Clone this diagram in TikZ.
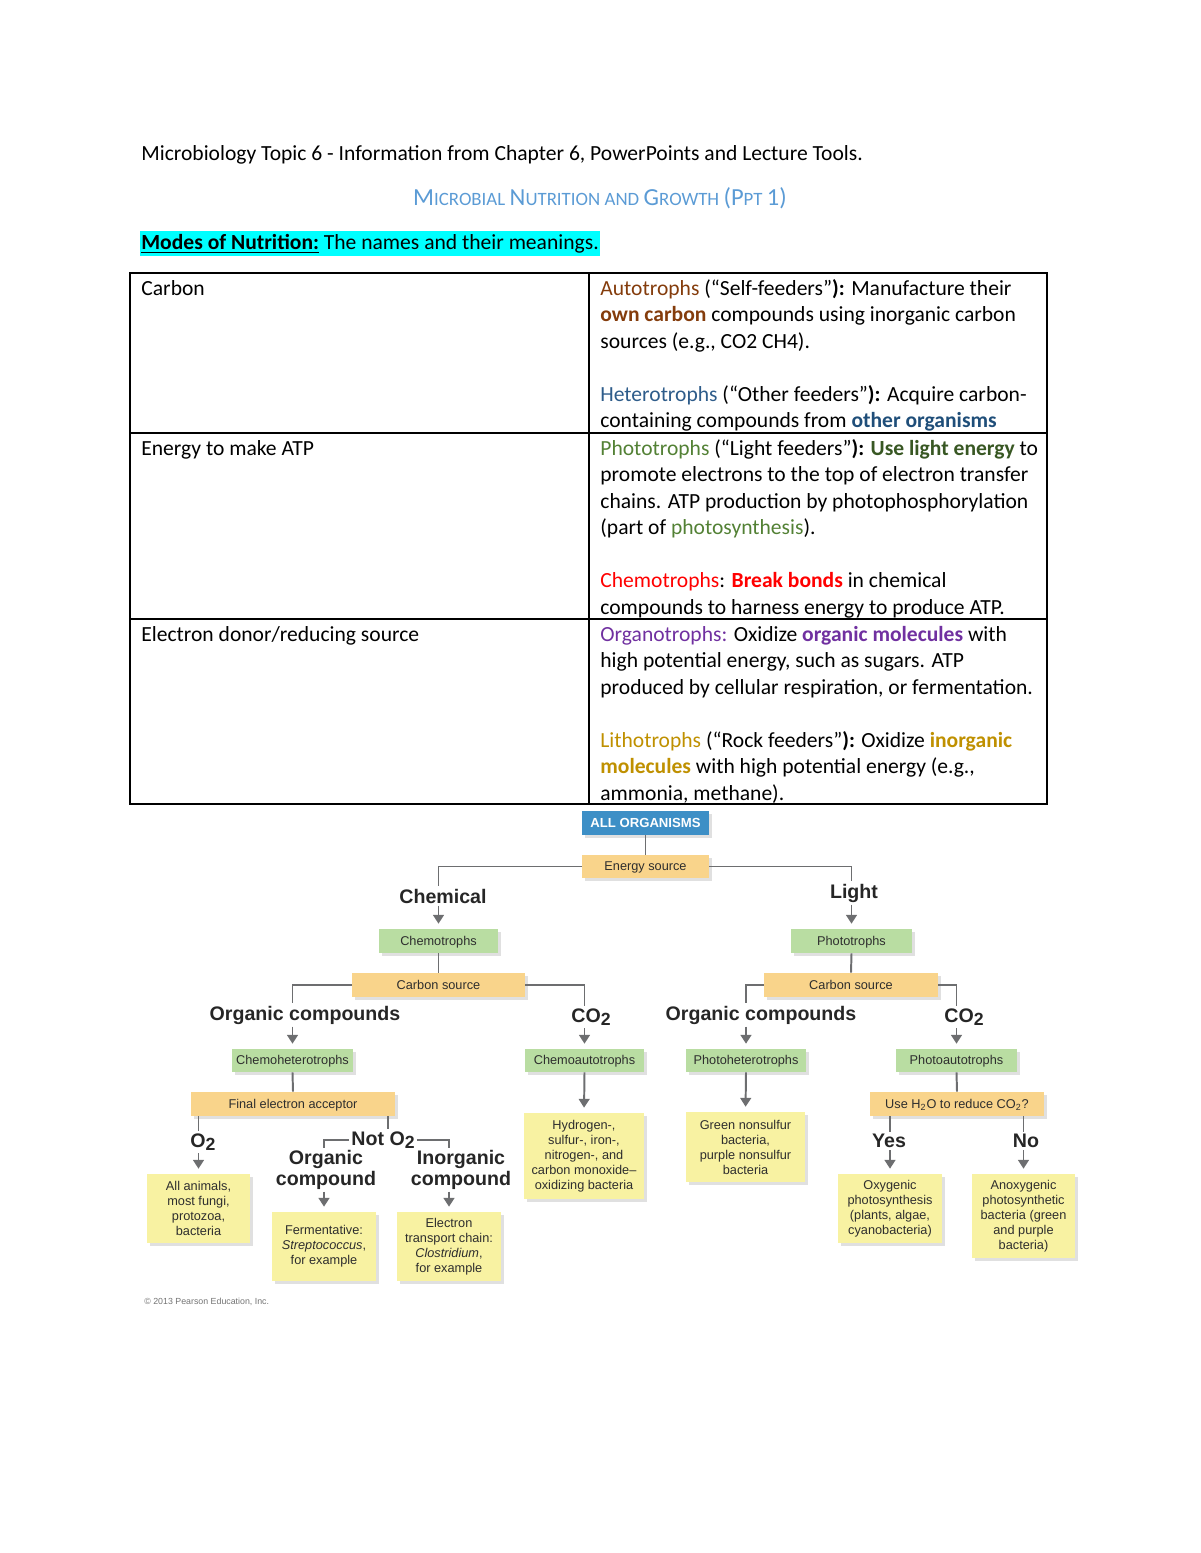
\documentclass[tikz,border=0pt]{standalone}
\usepackage{fontspec}
\setmainfont{Carlito}
\newfontfamily\arial{Liberation Sans}
\usetikzlibrary{arrows.meta,shadows}
\definecolor{autoc}{HTML}{843C0C}
\definecolor{heteroc}{HTML}{2E5C8A}
\definecolor{heterob}{HTML}{1F4E79}
\definecolor{photoc}{HTML}{538135}
\definecolor{photob}{HTML}{385723}
\definecolor{chemoc}{HTML}{FF0000}
\definecolor{organoc}{HTML}{7030A0}
\definecolor{lithoc}{HTML}{BF9000}
\definecolor{headc}{HTML}{5B9BD5}
\definecolor{hilite}{HTML}{00FFFF}
\definecolor{bluebox}{HTML}{3D8FC6}
\definecolor{orng}{HTML}{F9D48B}
\definecolor{grn}{HTML}{B9DDA2}
\definecolor{ylw}{HTML}{F8F2A2}
\definecolor{lgray}{HTML}{6D6E70}
\newcommand\bigsc[1]{{\fontsize{12.5}{15}\selectfont #1}}
\newcommand\smsc[1]{{\fontsize{9.6}{12}\selectfont #1}}
\newcommand\subtwo{\raisebox{-0.35ex}{\fontsize{9}{9}\selectfont 2}}
\begin{document}
\begin{tikzpicture}[x=0.51pt,y=-0.51pt,
  doc/.style={inner sep=0pt, font=\fontsize{11}{13.5}\selectfont},
  cell/.style={doc, anchor=north west, align=left},
  tbl/.style={line width=1.1pt, draw=black},
  sz/.style 2 args={minimum width={#1*0.51pt}, minimum height={#2*0.51pt}},
  box/.style={inner sep=0pt, align=center, text=black!82, font=\arial\fontsize{6.5}{7.65}\selectfont,
    drop shadow={shadow xshift=1.4pt, shadow yshift=-1.4pt, fill=black, opacity=0.12}},
  one/.style={text height=5pt, text depth=0.6pt},
  bbox/.style={box, one, fill=bluebox, text=white, font=\arial\bfseries\fontsize{6.7}{8}\selectfont},
  obox/.style={box, one, fill=orng},
  gbox/.style={box, one, fill=grn},
  nbox/.style={box, fill=ylw},
  lab/.style={inner sep=1pt, align=center, text=black!85, font=\arial\bfseries\fontsize{10}{8.7}\selectfont},
  conn/.style={draw=lgray, line width=1pt},
  arr/.style={conn, -{Triangle[width=5.5pt,length=4.5pt]}, shorten >=2.5pt}
]
\useasboundingbox (0,0) rectangle (1200,1553);

% ---------- header ----------
\node[doc, anchor=base west] (title) at (141,161)
  {Microbiology Topic 6 - Information from Chapter 6, PowerPoints and Lecture Tools.};
\node[inner sep=0pt, anchor=base, text=headc] (head) at (600,206)
  {\bigsc{M}\smsc{ICROBIAL} \bigsc{N}\smsc{UTRITION} \smsc{AND} \bigsc{G}\smsc{ROWTH} \bigsc{(P}\smsc{PT} \bigsc{1)}};
\fill[hilite] (140,231) rectangle (600,256);
\node[doc, anchor=base west] (modes) at (141,249)
  {\textbf{\underline{Modes of Nutrition:}} The names and their meanings.};

% ---------- table ----------
\draw[tbl] (130,273) rectangle (1047,804);
\draw[tbl] (589,273) -- (589,804);
\draw[tbl] (130,433) -- (1047,433);
\draw[tbl] (130,619) -- (1047,619);

\node[doc, anchor=base west] (c1) at (141,295) {Carbon};
\node[doc, anchor=base west] (c2) at (141,455) {Energy to make ATP};
\node[doc, anchor=base west] (c3) at (141,641) {Electron donor/reducing source};

\node[cell] (r1) at (600,276.5) {\strut\textcolor{autoc}{Autotrophs} (“Self-feeders”\textbf{):} Manufacture their\\
\textcolor{autoc}{\textbf{own carbon}} compounds using inorganic carbon\\
sources (e.g., CO2 CH4).\\[13.5pt]
\textcolor{heteroc}{Heterotrophs} (“Other feeders”\textbf{):} Acquire carbon-\\
containing compounds from \textcolor{heterob}{\textbf{other organisms}}};

\node[cell] (r2) at (600,436.5) {\strut\textcolor{photoc}{Phototrophs} (“Light feeders”\textbf{):} \textcolor{photob}{\textbf{Use light energy}} to\\
promote electrons to the top of electron transfer\\
chains. ATP production by photophosphorylation\\
(part of \textcolor{photoc}{photosynthesis}).\\[13.5pt]
\textcolor{chemoc}{Chemotrophs}: \textcolor{chemoc}{\textbf{Break bonds}} in chemical\\
compounds to harness energy to produce ATP.};

\node[cell] (r3) at (600,622.5) {\strut\textcolor{organoc}{Organotrophs:} Oxidize \textcolor{organoc}{\textbf{organic molecules}} with\\
high potential energy, such as sugars. ATP\\
produced by cellular respiration, or fermentation.\\[13.5pt]
\textcolor{lithoc}{Lithotrophs} (“Rock feeders”\textbf{):} Oxidize \textcolor{lithoc}{\textbf{inorganic}}\\
\textcolor{lithoc}{\textbf{molecules}} with high potential energy (e.g.,\\
ammonia, methane).};

% ---------- flowchart boxes ----------
\node[bbox, sz={127}{24}] (ao) at (645.5,823) {ALL ORGANISMS};
\node[obox, sz={127}{23}] (es) at (645.5,866.5) {Energy source};
\node[lab] (lchem) at (443,896) {Chemical};
\node[lab] (llight) at (854,893) {Light};
\node[gbox, sz={119}{24}] (chemo) at (438.5,941) {Chemotrophs};
\node[gbox, sz={121}{24}] (photo) at (851.5,941) {Phototrophs};
\node[obox, sz={173}{24}] (cs1) at (438.5,985) {Carbon source};
\node[obox, sz={174}{24}] (cs2) at (851,985) {Carbon source};
\node[lab] (lorg1) at (305,1015) {Organic compounds};
\node[lab] (lco1) at (591,1017) {CO\subtwo};
\node[lab] (lorg2) at (761,1015) {Organic compounds};
\node[lab] (lco2) at (964,1017) {CO\subtwo};
\node[gbox, sz={121}{23}] (chet) at (292.5,1060.5) {Chemoheterotrophs};
\node[gbox, sz={119}{23}] (caut) at (584.5,1060.5) {Chemoautotrophs};
\node[gbox, sz={120}{23}] (phet) at (746,1060.5) {Photoheterotrophs};
\node[gbox, sz={121}{23}] (paut) at (956.5,1060.5) {Photoautotrophs};
\node[obox, sz={204}{24}] (fea) at (293,1104) {Final electron acceptor};
\node[obox, sz={174}{24}] (uh) at (957,1104) {Use H\textsubscript{2}O to reduce CO\textsubscript{2}?};
\node[lab] (lo2) at (203,1142) {O\subtwo};
\node[lab] (lnot) at (383,1140) {Not O\subtwo};
\node[lab] (lorgc) at (326,1170) {Organic\\compound};
\node[lab] (linorg) at (461,1170) {Inorganic\\compound};
\node[lab] (lyes) at (889,1141) {Yes};
\node[lab] (lno) at (1026,1141) {No};
\node[nbox, sz={103}{69}] (n1) at (198.5,1208.5) {All animals,\\most fungi,\\protozoa,\\bacteria};
\node[nbox, sz={104}{69}] (n2) at (324,1246.5) {Fermentative:\\\textit{Streptococcus},\\for example};
\node[nbox, sz={104}{69}] (n3) at (449,1246.5) {Electron\\transport chain:\\\textit{Clostridium},\\for example};
\node[nbox, sz={120}{86}] (n4) at (584,1156) {Hydrogen-,\\sulfur-, iron-,\\nitrogen-, and\\carbon monoxide–\\oxidizing bacteria};
\node[nbox, sz={119}{70}] (n5) at (745.5,1147) {Green nonsulfur\\bacteria,\\purple nonsulfur\\bacteria};
\node[nbox, sz={104}{69}] (n6) at (890,1208.5) {Oxygenic\\photosynthesis\\(plants, algae,\\cyanobacteria)};
\node[nbox, sz={103}{84}] (n7) at (1023.5,1216) {Anoxygenic\\photosynthetic\\bacteria (green\\and purple\\bacteria)};
\node[inner sep=0pt, anchor=west, text=black!55, font=\arial\fontsize{4.5}{5}\selectfont] (copy) at (144,1302) {© 2013 Pearson Education, Inc.};

% ---------- connectors ----------
\draw[conn] (ao.south) -- (es.north);
\draw[conn] (es.west) -| (chemo.north |- lchem.north);
\draw[arr] (chemo.north |- lchem.south) -- (chemo.north);
\draw[conn] (es.east) -| (photo.north |- llight.north);
\draw[arr] (photo.north |- llight.south) -- (photo.north);
\draw[conn] (chemo.south) -- (cs1.north);
\draw[conn] (photo.south) -- (cs2.north);
\draw[conn] (cs1.west) -| (chet.north |- lorg1.north);
\draw[arr] (chet.north |- lorg1.south) -- (chet.north);
\draw[conn] (cs1.east) -| (caut.north |- lco1.north);
\draw[arr] (caut.north |- lco1.south) -- (caut.north);
\draw[conn] (cs2.west) -| (phet.north |- lorg2.north);
\draw[arr] (phet.north |- lorg2.south) -- (phet.north);
\draw[conn] (cs2.east) -| (paut.north |- lco2.north);
\draw[arr] (paut.north |- lco2.south) -- (paut.north);
\draw[conn] (chet.south) -- (fea.north);
\draw[conn] (n1.north |- fea.south) -- (n1.north |- lo2.north);
\draw[arr] (n1.north |- lo2.south) -- (n1.north);
\coordinate (fnot) at (388,1116);
\draw[conn] (fnot) -- (fnot |- lnot.north);
\draw[conn] (lnot.west) -| (n2.north |- lorgc.north);
\draw[conn] (lnot.east) -| (n3.north |- linorg.north);
\draw[arr] (n2.north |- lorgc.south) -- (n2.north);
\draw[arr] (n3.north |- linorg.south) -- (n3.north);
\draw[arr] (caut.south) -- (n4.north);
\draw[arr] (phet.south) -- (n5.north);
\draw[conn] (paut.south) -- (uh.north);
\draw[conn] (n6.north |- uh.south) -- (n6.north |- lyes.north);
\draw[arr] (n6.north |- lyes.south) -- (n6.north);
\draw[conn] (n7.north |- uh.south) -- (n7.north |- lno.north);
\draw[arr] (n7.north |- lno.south) -- (n7.north);
\end{tikzpicture}
\end{document}
